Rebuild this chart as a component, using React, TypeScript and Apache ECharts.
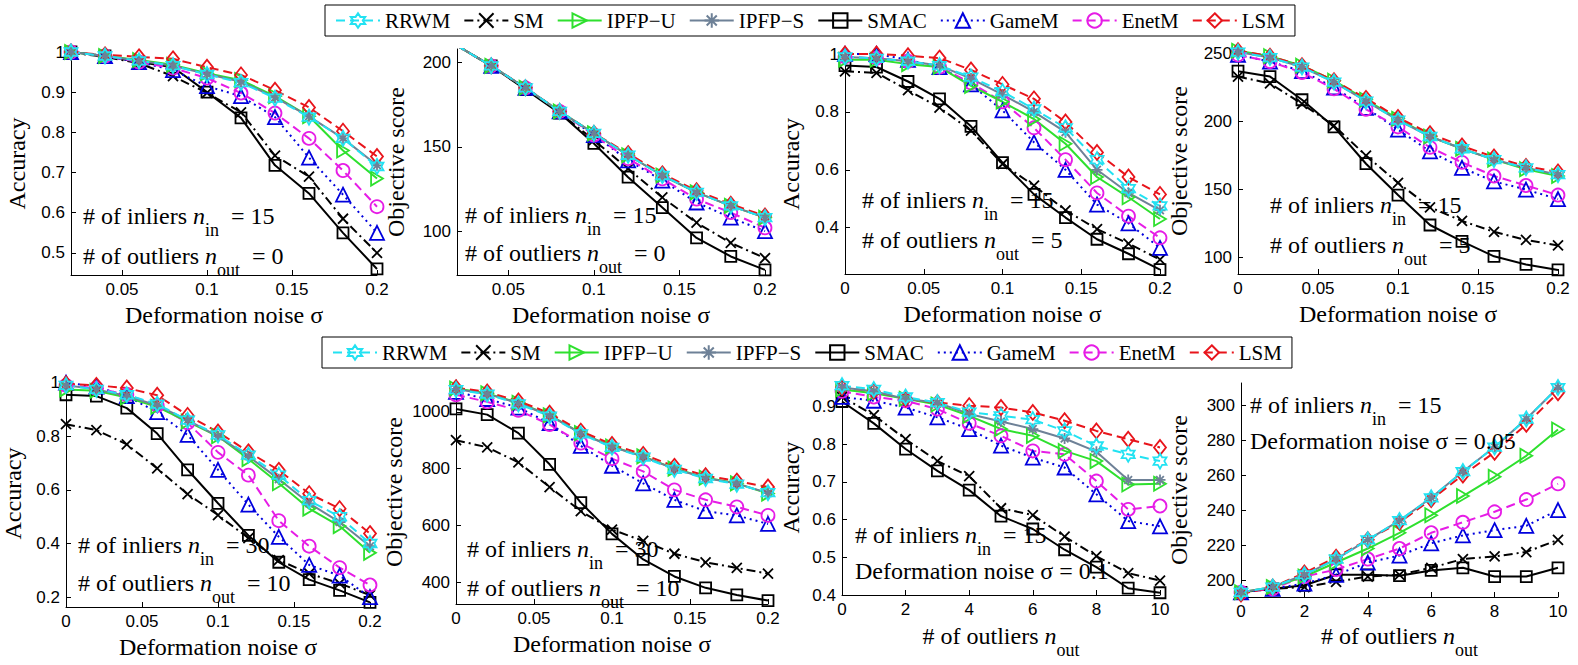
import React, { useEffect, useRef } from "react";
import * as echarts from "echarts";

// ---------------- data ----------------
const METHODS = ["RRWM", "SM", "IPFP−U", "IPFP−S", "SMAC", "GameM", "EnetM", "LSM"];
const SIGMA_A = [0.02, 0.04, 0.06, 0.08, 0.1, 0.12, 0.14, 0.16, 0.18, 0.2];
const SIGMA_B = [0, 0.02, 0.04, 0.06, 0.08, 0.1, 0.12, 0.14, 0.16, 0.18, 0.2];
const OUTLIERS = [0, 1, 2, 3, 4, 5, 6, 7, 8, 9, 10];

// rows follow METHODS order
const accIn15Out0 = [
  [1.0, 0.99, 0.978, 0.966, 0.944, 0.924, 0.885, 0.838, 0.785, 0.715],
  [0.998, 0.988, 0.972, 0.94, 0.898, 0.85, 0.742, 0.69, 0.585, 0.5],
  [1.0, 0.99, 0.98, 0.968, 0.947, 0.93, 0.89, 0.84, 0.755, 0.685],
  [1.0, 0.99, 0.978, 0.966, 0.945, 0.926, 0.887, 0.84, 0.785, 0.718],
  [1.0, 0.99, 0.975, 0.962, 0.9, 0.836, 0.718, 0.648, 0.55, 0.46],
  [1.0, 0.99, 0.975, 0.955, 0.915, 0.89, 0.838, 0.737, 0.645, 0.55],
  [1.0, 0.99, 0.975, 0.96, 0.935, 0.898, 0.848, 0.785, 0.705, 0.615],
  [1.0, 0.993, 0.988, 0.983, 0.962, 0.943, 0.905, 0.862, 0.803, 0.74],
];
const objIn15Out0 = [
  [210, 198, 185, 171, 158, 145, 133, 123, 115, 108],
  [210, 198, 185, 170, 154, 137, 120, 105, 93, 84],
  [210, 198, 185, 171, 158, 145, 133, 123, 115, 108],
  [210, 198, 185, 171, 158, 145, 133, 123, 115, 108],
  [210, 198, 184, 170, 152, 132, 114, 96, 85, 77],
  [210, 198, 185, 171, 157, 142, 130, 117, 108, 100],
  [210, 198, 185, 171, 157, 143, 131, 119, 111, 102],
  [210, 198, 185, 171, 158, 146, 134, 124, 116, 109],
];
const accIn15Out5 = [
  [0.99, 0.985, 0.975, 0.96, 0.92, 0.87, 0.81, 0.745, 0.635, 0.535, 0.475],
  [0.94, 0.935, 0.875, 0.815, 0.735, 0.62, 0.545, 0.46, 0.395, 0.345, 0.29],
  [0.98, 0.98, 0.965, 0.955, 0.89, 0.835, 0.775, 0.69, 0.575, 0.505, 0.43],
  [0.99, 0.985, 0.975, 0.96, 0.915, 0.86, 0.8, 0.73, 0.6, 0.52, 0.46],
  [0.96, 0.955, 0.905, 0.845, 0.75, 0.625, 0.515, 0.435, 0.36, 0.31, 0.255],
  [1.0, 1.0, 0.98, 0.955, 0.895, 0.805, 0.695, 0.6, 0.48, 0.415, 0.33],
  [0.99, 0.985, 0.975, 0.955, 0.9, 0.835, 0.745, 0.635, 0.52, 0.44, 0.365],
  [1.0, 1.0, 0.994, 0.986, 0.945, 0.895, 0.845, 0.765, 0.66, 0.575, 0.515],
];
const objIn15Out5 = [
  [251, 247, 240, 229, 215, 201, 189, 180, 172, 166, 161],
  [233, 228, 213, 197, 175, 155, 137, 127, 119, 113, 109],
  [252, 248, 241, 230, 216, 202, 189, 180, 172, 165, 160],
  [251, 247, 240, 229, 215, 201, 189, 180, 172, 166, 161],
  [237, 233, 216, 196, 169, 146, 124, 112, 101, 95, 91],
  [249, 244, 237, 225, 210, 194, 178, 166, 156, 150, 143],
  [249, 244, 236, 224, 209, 196, 181, 170, 160, 153, 146],
  [252, 248, 241, 230, 217, 203, 191, 182, 174, 167, 163],
];
const accIn30Out10 = [
  [0.99, 0.975, 0.955, 0.92, 0.86, 0.805, 0.73, 0.655, 0.56, 0.5, 0.4],
  [0.845, 0.823, 0.77, 0.68, 0.584, 0.506, 0.42, 0.338, 0.288, 0.251, 0.207],
  [0.975, 0.97, 0.945, 0.91, 0.855, 0.8, 0.715, 0.625, 0.53, 0.465, 0.365],
  [0.99, 0.975, 0.95, 0.915, 0.86, 0.8, 0.725, 0.64, 0.55, 0.48, 0.39],
  [0.955, 0.95, 0.905, 0.81, 0.675, 0.55, 0.43, 0.33, 0.265, 0.225, 0.18],
  [1.0, 0.985, 0.95, 0.89, 0.805, 0.675, 0.545, 0.425, 0.32, 0.28, 0.2],
  [0.99, 0.98, 0.955, 0.915, 0.85, 0.74, 0.655, 0.485, 0.39, 0.31, 0.245],
  [0.996, 0.99, 0.98, 0.953, 0.878, 0.816, 0.742, 0.673, 0.586, 0.53, 0.437],
];
const objIn30Out10 = [
  [1078, 1062, 1028, 985, 922, 875, 840, 797, 765, 745, 715],
  [900, 875, 822, 735, 650, 585, 545, 500, 470, 450, 430],
  [1082, 1065, 1032, 988, 925, 878, 843, 800, 768, 748, 712],
  [1080, 1063, 1030, 987, 924, 877, 842, 799, 767, 747, 714],
  [1010, 990, 925, 815, 680, 570, 480, 420, 380, 355, 335],
  [1070, 1045, 1015, 960, 880, 810, 748, 690, 650, 635, 605],
  [1060, 1035, 1005, 955, 890, 835, 790, 725, 690, 665, 635],
  [1085, 1070, 1038, 995, 932, 885, 850, 808, 775, 756, 735],
];
const accVsOutliers = [
  [0.955, 0.945, 0.925, 0.91, 0.885, 0.875, 0.865, 0.835, 0.795, 0.773, 0.755],
  [0.925, 0.877, 0.813, 0.755, 0.715, 0.63, 0.612, 0.555, 0.503, 0.458, 0.438],
  [0.945, 0.935, 0.92, 0.905, 0.875, 0.84, 0.822, 0.782, 0.755, 0.693, 0.695],
  [0.95, 0.94, 0.92, 0.91, 0.88, 0.86, 0.84, 0.815, 0.78, 0.705, 0.705],
  [0.913, 0.855, 0.787, 0.729, 0.678, 0.609, 0.575, 0.52, 0.474, 0.418, 0.406],
  [0.925, 0.915, 0.897, 0.871, 0.84, 0.796, 0.764, 0.738, 0.667, 0.596, 0.582],
  [0.94, 0.925, 0.915, 0.893, 0.855, 0.822, 0.782, 0.773, 0.702, 0.627, 0.636],
  [0.95, 0.94, 0.92, 0.91, 0.902, 0.897, 0.884, 0.862, 0.835, 0.813, 0.791],
];
const objVsOutliers = [
  [193, 196, 203, 212, 223, 234, 247, 262, 276, 292, 310],
  [193, 195, 196, 199, 202, 203, 207, 212, 213.5, 216, 223],
  [193, 196, 202, 210, 218, 227, 237, 248, 259, 271, 286],
  [193, 196, 203, 212, 223, 234, 247, 262, 276, 292, 310],
  [193, 195, 197, 203, 203, 202.5, 205.5, 207, 202, 202, 207],
  [193, 195, 198, 203, 210, 214, 221, 225.5, 228.5, 231, 240],
  [193, 195, 202, 206, 212, 218, 227, 233, 239, 246, 255],
  [192, 196, 204, 213, 223, 233, 246, 260, 273, 289, 307],
];

// ---------------- layout & style ----------------
const W = 1578;
const H = 665;
const SERIF = '"Liberation Serif", "Times New Roman", serif';
const SANS = '"Liberation Sans", Arial, Helvetica, sans-serif';

const HEX = "path://M0,-10L-2.887,-5L-8.66,-5L-5.774,0L-8.66,5L-2.887,5L0,10L2.887,5L8.66,5L5.774,0L8.66,-5L2.887,-5Z";
const XMARK = "path://M0,0L10,10M0,10L10,0";
const RTRI = "path://M0,0L11,6.5L0,13Z";
const AST = "path://M0,5L10,5M5,0L5,10M1.5,1.5L8.5,8.5M1.5,8.5L8.5,1.5";

const METHOD_STYLE: Record<string, any> = {
  RRWM: { color: "#22e2f2", dash: [9, 5], symbol: HEX, size: 15 },
  SM: { color: "#000000", dash: [9, 4, 2, 4], symbol: XMARK, size: 10 },
  "IPFP−U": { color: "#2ee02e", dash: "solid", symbol: RTRI, size: 14 },
  "IPFP−S": { color: "#6e8197", dash: "solid", symbol: AST, size: 11 },
  SMAC: { color: "#000000", dash: "solid", symbol: "rect", size: 11 },
  GameM: { color: "#0000dd", dash: [2, 4], symbol: "triangle", size: 14 },
  EnetM: { color: "#e61ce6", dash: [9, 5], symbol: "circle", size: 13 },
  LSM: { color: "#e8141b", dash: [9, 5], symbol: "diamond", size: [12, 15] },
};
const DRAW_ORDER = ["SMAC", "SM", "GameM", "EnetM", "IPFP−U", "LSM", "IPFP−S", "RRWM"];

const PLOTS = [
  { vals: accIn15Out0, xs: SIGMA_A, grid: [71, 52, 306, 223], x: [0.02, 0.2], xs_: 4, xMin: false, y: [0.445, 1.0], ys_: 5, yMin: false, yMax: true, yName: "Accuracy", yGap: 42, xName: "Deformation noise σ" },
  { vals: objIn15Out0, xs: SIGMA_A, grid: [457, 49, 308, 226], x: [0.02, 0.2], xs_: 4, xMin: false, y: [74, 208], ys_: 3, yMin: false, yMax: false, yName: "Objective score", yGap: 49, xName: "Deformation noise σ" },
  { vals: accIn15Out5, xs: SIGMA_B, grid: [845, 54, 315, 220], x: [0, 0.2], xs_: 4, xMin: true, y: [0.24, 1.0], ys_: 4, yMin: false, yMax: true, yName: "Accuracy", yGap: 42, xName: "Deformation noise σ" },
  { vals: objIn15Out5, xs: SIGMA_B, grid: [1238, 48, 320, 226], x: [0, 0.2], xs_: 4, xMin: true, y: [88, 254], ys_: 4, yMin: false, yMax: false, yName: "Objective score", yGap: 47, xName: "Deformation noise σ" },
  { vals: accIn30Out10, xs: SIGMA_B, grid: [66, 380, 304, 227], x: [0, 0.2], xs_: 4, xMin: true, y: [0.163, 1.01], ys_: 5, yMin: false, yMax: false, yName: "Accuracy", yGap: 41, xName: "Deformation noise σ" },
  { vals: objIn30Out10, xs: SIGMA_B, grid: [456, 380, 312, 224], x: [0, 0.2], xs_: 4, xMin: true, y: [323, 1112], ys_: 5, yMin: false, yMax: false, yName: "Objective score", yGap: 50, xName: "Deformation noise σ" },
  { vals: accVsOutliers, xs: OUTLIERS, grid: [842, 380, 318, 215], x: [0, 10], xs_: 5, xMin: true, y: [0.4, 0.97], ys_: 5, yMin: true, yMax: false, yName: "Accuracy", yGap: 39, xName: "" },
  { vals: objVsOutliers, xs: OUTLIERS, grid: [1241, 383, 317, 214], x: [0, 10], xs_: 5, xMin: true, y: [190.3, 312.6], ys_: 6, yMin: false, yMax: false, yName: "Objective score", yGap: 50, xName: "" },
];

type Part = { t: string; it?: boolean; sub?: boolean };
const inl = (n: number): Part[] => [{ t: "# of inliers " }, { t: "n", it: true }, { t: "in", sub: true }, { t: "  = " + n }];
const outl = (n: number): Part[] => [{ t: "# of outliers " }, { t: "n", it: true }, { t: "out", sub: true }, { t: "  = " + n }];

const ANNOTATIONS = [
  { x: 83, y1: 216, y2: 256, l1: inl(15), l2: outl(0) },
  { x: 465, y1: 215, y2: 253, l1: inl(15), l2: outl(0) },
  { x: 862, y1: 200, y2: 240, l1: inl(15), l2: outl(5) },
  { x: 1270, y1: 205, y2: 245, l1: inl(15), l2: outl(5) },
  { x: 78, y1: 545, y2: 583, l1: inl(30), l2: outl(10) },
  { x: 467, y1: 549, y2: 588, l1: inl(30), l2: outl(10) },
  { x: 855, y1: 535, y2: 571, l1: inl(15), l2: [{ t: "Deformation noise σ = 0.1" }] },
  { x: 1250, y1: 405, y2: 441, l1: inl(15), l2: [{ t: "Deformation noise σ = 0.05" }] },
];
const OUT_XLABEL: Part[] = [{ t: "# of outliers " }, { t: "n", it: true }, { t: "out", sub: true }];

const MAIN_FS = 24;
const SUB_FS = 18;
const SUB_DY = 14;
const TICK_FS = 17;

function buildOption() {
  const canvas = document.createElement("canvas");
  const ctx = canvas.getContext("2d")!;
  const measure = (p: Part) => {
    const fs = p.sub ? SUB_FS : MAIN_FS;
    ctx.font = `${p.it ? "italic " : ""}${fs}px "Liberation Serif"`;
    return ctx.measureText(p.t).width;
  };
  const mathLine = (x: number, y: number, parts: Part[]) => {
    const els: any[] = [];
    let cx = x;
    parts.forEach((p) => {
      els.push({
        type: "text",
        x: cx,
        y: p.sub ? y + SUB_DY : y,
        z: 100,
        silent: true,
        style: {
          text: p.t,
          fontFamily: SERIF,
          fontSize: p.sub ? SUB_FS : MAIN_FS,
          fontStyle: p.it ? "italic" : "normal",
          fill: "#000",
          align: "left",
          verticalAlign: "middle",
        },
      });
      cx += measure(p);
    });
    return els;
  };

  const grid: any[] = [];
  const xAxis: any[] = [];
  const yAxis: any[] = [];
  const series: any[] = [];
  const graphic: any[] = [];
  const fmt = (v: number) => String(+Number(v).toFixed(6));

  PLOTS.forEach((p, i) => {
    const [left, top, width, height] = p.grid;
    grid.push({ left, top, width, height, containLabel: false });
    const axisCommon = {
      type: "value",
      gridIndex: i,
      axisLine: { show: true, onZero: false, lineStyle: { color: "#000", width: 1 } },
      axisTick: { show: true, inside: true, length: 5, lineStyle: { color: "#000" } },
      splitLine: { show: false },
      nameLocation: "middle",
      nameTextStyle: { fontFamily: SERIF, fontSize: MAIN_FS, color: "#000" },
    };
    xAxis.push({
      ...axisCommon,
      min: p.x[0],
      max: p.x[1],
      splitNumber: p.xs_,
      name: p.xName,
      nameGap: 28,
      axisLabel: { color: "#000", fontFamily: SANS, fontSize: TICK_FS, margin: 6, showMinLabel: p.xMin, showMaxLabel: true, formatter: fmt },
    });
    yAxis.push({
      ...axisCommon,
      min: p.y[0],
      max: p.y[1],
      splitNumber: p.ys_,
      name: p.yName,
      nameGap: p.yGap,
      nameRotate: 90,
      axisLabel: { color: "#000", fontFamily: SANS, fontSize: TICK_FS, margin: 6, showMinLabel: p.yMin, showMaxLabel: p.yMax, formatter: fmt },
    });
    DRAW_ORDER.forEach((name) => {
      const m = METHODS.indexOf(name);
      const st = METHOD_STYLE[name];
      series.push({
        type: "line",
        name,
        xAxisIndex: i,
        yAxisIndex: i,
        data: p.xs.map((x, k) => [x, p.vals[m][k]]),
        symbol: st.symbol,
        symbolSize: st.size,
        symbolKeepAspect: true,
        showSymbol: true,
        clip: true,
        silent: true,
        lineStyle: { color: st.color, width: 2, type: st.dash },
        itemStyle: { color: "transparent", borderColor: st.color, borderWidth: 1.8 },
        emphasis: { disabled: true },
      });
    });
  });

  ANNOTATIONS.forEach((a) => {
    graphic.push(...mathLine(a.x, a.y1, a.l1));
    graphic.push(...mathLine(a.x, a.y2, a.l2));
  });
  [6, 7].forEach((i) => {
    const [left, , width] = PLOTS[i].grid;
    const total = OUT_XLABEL.reduce((s, p) => s + measure(p), 0);
    graphic.push(...mathLine(left + width / 2 - total / 2, 636, OUT_XLABEL));
  });

  const legendCommon = {
    data: METHODS,
    orient: "horizontal",
    itemWidth: 44,
    itemHeight: 18,
    itemGap: 13,
    padding: [5, 10],
    borderColor: "#000",
    borderWidth: 1,
    backgroundColor: "#fff",
    selectedMode: false,
    textStyle: { fontFamily: SERIF, fontSize: 21, color: "#000" },
  };

  return {
    animation: false,
    backgroundColor: "#fff",
    textStyle: { fontFamily: SANS },
    grid,
    xAxis,
    yAxis,
    series,
    graphic,
    legend: [
      { ...legendCommon, left: 325, top: 5 },
      { ...legendCommon, left: 322, top: 337 },
    ],
  };
}

export default function App() {
  const ref = useRef<HTMLDivElement>(null);
  useEffect(() => {
    const chart = echarts.init(ref.current!, null, { renderer: "svg", width: W, height: H });
    chart.setOption(buildOption() as any);
    return () => chart.dispose();
  }, []);
  return <div ref={ref} style={{ position: "fixed", left: 0, top: 0, width: W, height: H, background: "#fff" }} />;
}
